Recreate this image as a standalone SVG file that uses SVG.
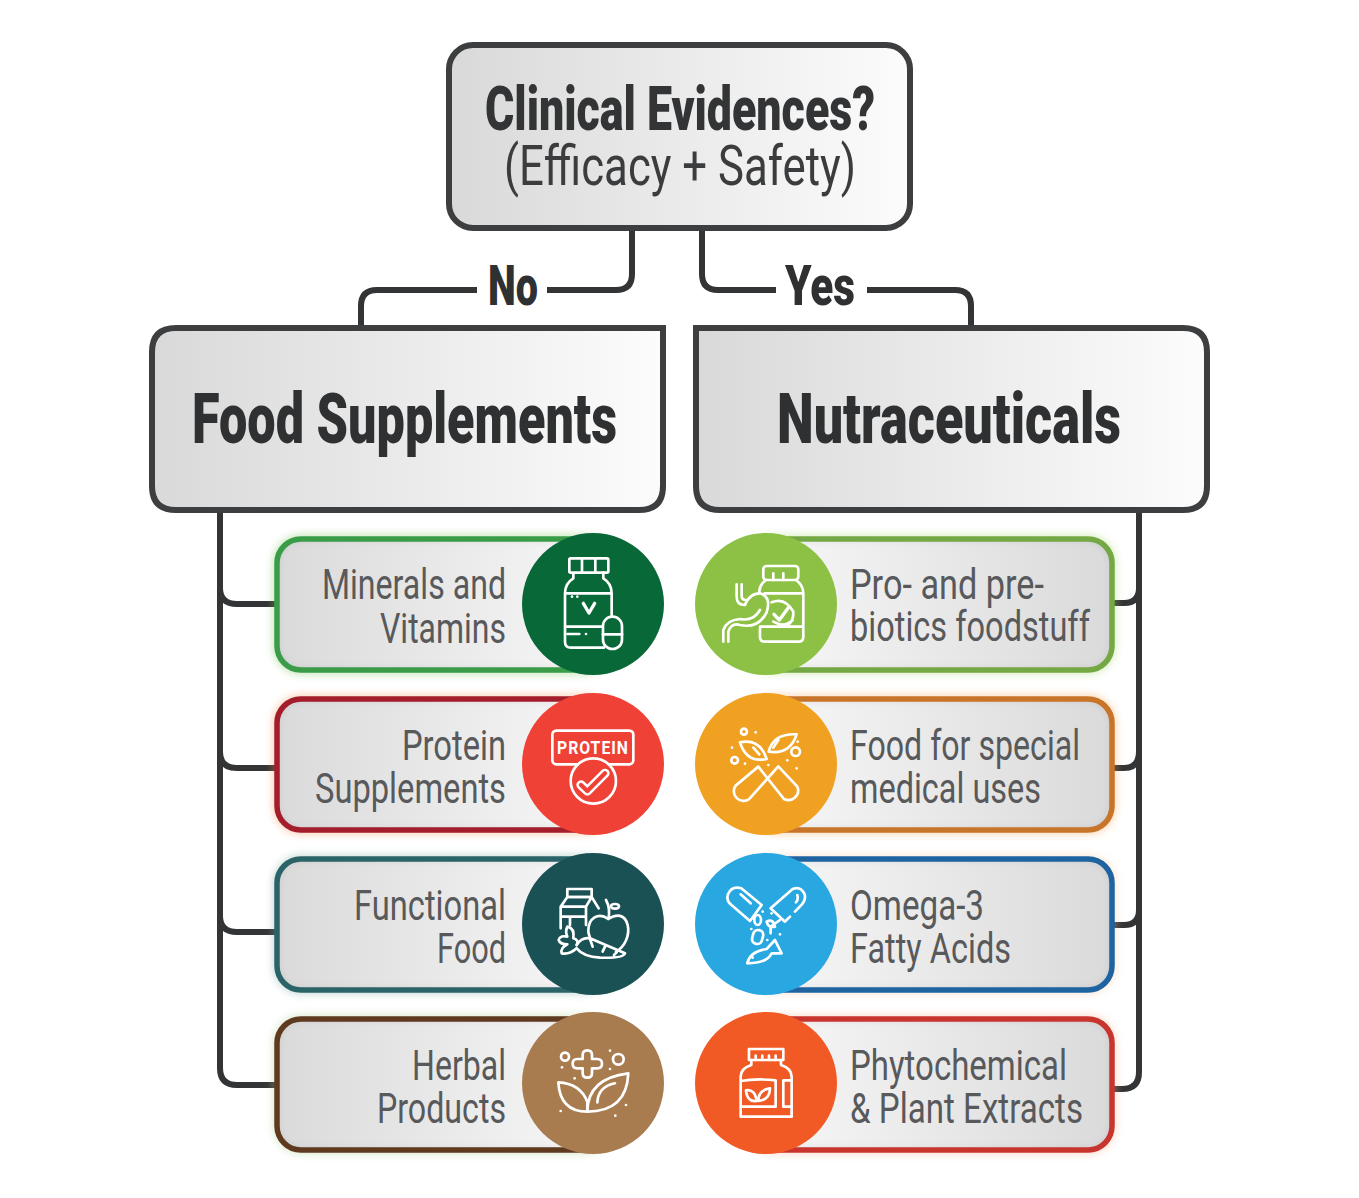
<svg xmlns="http://www.w3.org/2000/svg" width="1359" height="1198" viewBox="0 0 1359 1198">
<style>
text{font-family:"Roboto","Liberation Sans",sans-serif}
.t1{font-size:62px;font-weight:900;fill:#333436}
.t2{font-size:56px;font-weight:400;fill:#3b3c3e}
.h{font-size:70px;font-weight:900;fill:#2f3032}
.lb{font-size:56px;font-weight:900;fill:#2f3032}
.i{font-size:42px;font-weight:400;fill:#58595b}
.main{stroke:#3d3e40;stroke-width:6}
.conn{fill:none;stroke:#333436;stroke-width:6;stroke-linecap:butt}
.glow{fill:none;stroke-width:7;filter:url(#bl);opacity:.5}
.edge{fill:none;stroke-width:5.5}
.ic{fill:none;stroke:#fff;stroke-width:8;stroke-linecap:round;stroke-linejoin:round}
.d{fill:#fff;stroke:none}
</style>
<defs>
<linearGradient id="gm" x1="0" x2="1" y1="0" y2="0"><stop offset="0" stop-color="#d8d9d8"/><stop offset="1" stop-color="#fcfcfc"/></linearGradient>
<linearGradient id="gl" x1="0" x2="1" y1="0" y2="0"><stop offset="0" stop-color="#dadadb"/><stop offset="1" stop-color="#f8f8f8"/></linearGradient>
<linearGradient id="gr" x1="1" x2="0" y1="0" y2="0"><stop offset="0" stop-color="#dadadb"/><stop offset="1" stop-color="#f8f8f8"/></linearGradient>
<filter id="bl" x="-10%" y="-20%" width="120%" height="140%"><feGaussianBlur stdDeviation="4"/></filter>
<filter id="inset" x="-5%" y="-10%" width="110%" height="120%">
<feFlood flood-color="#000" result="f"/><feComposite in="f" in2="SourceAlpha" operator="out" result="o"/>
<feGaussianBlur in="o" stdDeviation="5" result="b"/><feComposite in="b" in2="SourceAlpha" operator="in" result="s"/>
<feComponentTransfer in="s" result="s2"><feFuncA type="linear" slope=".28"/></feComponentTransfer>
<feMerge><feMergeNode in="SourceGraphic"/><feMergeNode in="s2"/></feMerge>
</filter>
</defs>
<rect width="1359" height="1198" fill="#fff"/>

<g id="connectors">
<path class="conn" d="M632 228V274Q632 290 616 290H547"/>
<path class="conn" d="M477 290H377Q361 290 361 306V327"/>
<path class="conn" d="M702 228V274Q702 290 718 290H776"/>
<path class="conn" d="M867 290H955Q971 290 971 306V327"/>
<path class="conn" d="M220 511V1068Q220 1085 237 1085H276"/>
<path class="conn" d="M220 588Q220 604 237 604H276"/>
<path class="conn" d="M220 752Q220 768 237 768H276"/>
<path class="conn" d="M220 916Q220 932 237 932H276"/>
<path class="conn" d="M1139 511V1072Q1139 1089 1122 1089H1113"/>
<path class="conn" d="M1139 588Q1139 603 1124 603H1113"/>
<path class="conn" d="M1139 752Q1139 768 1124 768H1113"/>
<path class="conn" d="M1139 910Q1139 925 1124 925H1113"/>
</g>

<g id="n-clinical">
<rect class="main" x="449" y="45" width="461" height="183" rx="24" fill="url(#gm)"/>
<text class="t1" x="485" y="130" textLength="390" lengthAdjust="spacingAndGlyphs">Clinical Evidences?</text>
<text class="t2" x="504" y="185" textLength="352" lengthAdjust="spacingAndGlyphs">(Efficacy + Safety)</text>
</g>
<g id="l-no"><text class="lb" x="488" y="305" textLength="50" lengthAdjust="spacingAndGlyphs">No</text></g>
<g id="l-yes"><text class="lb" x="785" y="305" textLength="70" lengthAdjust="spacingAndGlyphs">Yes</text></g>

<g id="n-food-supplements">
<path class="main" fill="url(#gm)" d="M663 328H176Q152 328 152 352V486Q152 510 176 510H639Q663 510 663 486Z"/>
<text class="h" x="192" y="443" textLength="425" lengthAdjust="spacingAndGlyphs">Food Supplements</text>
</g>
<g id="n-nutraceuticals">
<path class="main" fill="url(#gm)" d="M696 328H1183Q1207 328 1207 352V486Q1207 510 1183 510H720Q696 510 696 486Z"/>
<text class="h" x="777" y="443" textLength="344" lengthAdjust="spacingAndGlyphs">Nutraceuticals</text>
</g>

<!-- left column -->
<g id="n-minerals">
<rect class="glow" stroke="#6cc04a" x="277" y="539" width="330" height="131" rx="24"/>
<rect fill="url(#gl)" filter="url(#inset)" x="277" y="539" width="330" height="131" rx="24"/>
<rect class="edge" stroke="#3a9c49" x="277" y="539" width="330" height="131" rx="24"/>
<text class="i" x="322" y="599" textLength="184" lengthAdjust="spacingAndGlyphs">Minerals and</text>
<text class="i" x="380" y="643" textLength="126" lengthAdjust="spacingAndGlyphs">Vitamins</text>
<circle cx="593" cy="604" r="71" fill="#086838"/>
<g class="ic" transform="translate(510 525) scale(.3333)">
<rect x="178" y="100" width="117" height="43" rx="4"/><path d="M216 100V143M256 100V143"/>
<path d="M190 145V160Q165 175 165 205V350Q165 368 183 368H282M280 143V160Q305 175 305 205V272M165 205H305M165 305H278"/>
<path d="M220 235L237 264L254 235" stroke-width="10"/>
<path d="M172 327H208"/><circle class="d" cx="202" cy="215" r="4"/><circle class="d" cx="186" cy="215" r="4"/><circle class="d" cx="228" cy="327" r="4"/>
<rect x="279" y="275" width="57" height="97" rx="28"/><path d="M279 328H336"/>
</g>
</g>
<g id="n-protein">
<rect class="glow" stroke="#f58a4a" x="277" y="699" width="330" height="131" rx="24"/>
<rect fill="url(#gl)" filter="url(#inset)" x="277" y="699" width="330" height="131" rx="24"/>
<rect class="edge" stroke="#a31d2a" x="277" y="699" width="330" height="131" rx="24"/>
<text class="i" x="402" y="760" textLength="104" lengthAdjust="spacingAndGlyphs">Protein</text>
<text class="i" x="315" y="803" textLength="191" lengthAdjust="spacingAndGlyphs">Supplements</text>
<circle cx="593" cy="764" r="71" fill="#ef4136"/>
<g class="ic" transform="translate(510 525) scale(.3333)">
<rect x="127" y="617" width="243" height="101" rx="12" fill="#ef4136"/>
<circle cx="250" cy="768" r="68" fill="#ef4136"/>
<path d="M213 780L232 798L285 745" stroke-width="28"/><path d="M213 780L232 798L285 745" stroke="#ef4136" stroke-width="13" stroke-linecap="round"/>
</g>
<text x="557" y="754" textLength="72" lengthAdjust="spacingAndGlyphs" font-size="19" font-weight="700" letter-spacing="1.2" fill="#fff">PROTEIN</text>
</g>
<g id="n-functional">
<rect class="glow" stroke="#7fa89f" x="277" y="859" width="330" height="131" rx="24"/>
<rect fill="url(#gl)" filter="url(#inset)" x="277" y="859" width="330" height="131" rx="24"/>
<rect class="edge" stroke="#2b6468" x="277" y="859" width="330" height="131" rx="24"/>
<text class="i" x="354" y="920" textLength="152" lengthAdjust="spacingAndGlyphs">Functional</text>
<text class="i" x="437" y="963" textLength="69" lengthAdjust="spacingAndGlyphs">Food</text>
<circle cx="593" cy="924" r="71" fill="#1a5155"/>
<g class="ic" transform="translate(510 845) scale(.3333)">
<rect x="172" y="132" width="73" height="24"/>
<path d="M152 250V185L172 156H245L266 190M152 185H228L245 156M152 215H228V238M228 185V240M180 240V215"/>
<path d="M295 222C265 200 235 220 235 258C235 265 238 272 240 278M318 320C345 305 360 270 353 240C345 208 320 205 295 222M295 222Q302 190 288 165"/>
<ellipse cx="315" cy="184" rx="12" ry="7"/>
<path d="M200 300Q215 275 240 280L345 325Q340 340 270 338Q220 335 200 310M240 282L248 305M285 305L278 320M320 322L312 330"/>
<path d="M200 300Q208 285 190 280Q195 250 172 245Q165 260 172 275Q150 270 146 285Q150 298 172 298Q150 310 155 325Q178 330 200 310"/>
</g>
</g>
<g id="n-herbal">
<rect class="glow" stroke="#a8cf8a" x="277" y="1019" width="330" height="131" rx="24"/>
<rect fill="url(#gl)" filter="url(#inset)" x="277" y="1019" width="330" height="131" rx="24"/>
<rect class="edge" stroke="#5f3a1e" x="277" y="1019" width="330" height="131" rx="24"/>
<text class="i" x="412" y="1080" textLength="94" lengthAdjust="spacingAndGlyphs">Herbal</text>
<text class="i" x="377" y="1123" textLength="129" lengthAdjust="spacingAndGlyphs">Products</text>
<circle cx="593" cy="1083" r="71" fill="#a97c50"/>
<g class="ic" transform="translate(510 845) scale(.3333)">
<path d="M218 630Q218 616 232 616Q246 616 246 630V642H262Q276 642 276 656Q276 670 262 670H246V684Q246 698 232 698Q218 698 218 684V670H202Q188 670 188 656Q188 642 202 642H218Z"/>
<circle cx="165" cy="635" r="12"/><circle cx="325" cy="643" r="16"/>
<path d="M145 712Q210 715 232 770V800Q150 800 145 712ZM355 685Q350 800 232 800Q232 700 355 685ZM262 772Q265 725 315 715"/>
<circle class="d" cx="156" cy="667" r="4"/><circle class="d" cx="300" cy="617" r="4"/><circle class="d" cx="194" cy="700" r="4"/><circle class="d" cx="300" cy="672" r="4"/><circle class="d" cx="152" cy="798" r="4"/><circle class="d" cx="348" cy="780" r="4"/><circle class="d" cx="316" cy="812" r="4"/>
</g>
</g>

<!-- right column -->
<g id="n-probiotics">
<rect class="glow" stroke="#a5d66a" x="752" y="539" width="360" height="131" rx="24"/>
<rect fill="url(#gr)" filter="url(#inset)" x="752" y="539" width="360" height="131" rx="24"/>
<rect class="edge" stroke="#74a844" x="752" y="539" width="360" height="131" rx="24"/>
<text class="i" x="850" y="599" textLength="194" lengthAdjust="spacingAndGlyphs">Pro- and pre-</text>
<text class="i" x="850" y="641" textLength="240" lengthAdjust="spacingAndGlyphs">biotics foodstuff</text>
<circle cx="766" cy="604" r="71" fill="#8dc145"/>
<g class="ic" transform="translate(510 525) scale(.3333)">
<rect x="760" y="123" width="105" height="42" rx="10"/><path d="M790 145V165M820 145V165"/>
<path d="M768 165Q748 180 748 200M858 165Q880 180 880 205V335Q880 350 865 350H765Q750 350 750 335V310M764 205H880M750 305H880"/>
<path d="M680 178V215Q680 240 705 240Q718 205 750 205Q785 215 770 262Q745 312 690 300Q665 292 655 320V350M640 350V315Q650 285 690 282Q730 290 750 255M695 178V212Q695 225 708 225"/>
<path d="M792 268L808 285L835 248" stroke-width="10"/><path d="M785 232Q825 215 850 260Q852 285 835 300M848 285Q825 310 790 290"/>
</g>
</g>
<g id="n-special">
<rect class="glow" stroke="#f5a04a" x="752" y="699" width="360" height="131" rx="24"/>
<rect fill="url(#gr)" filter="url(#inset)" x="752" y="699" width="360" height="131" rx="24"/>
<rect class="edge" stroke="#c8752a" x="752" y="699" width="360" height="131" rx="24"/>
<text class="i" x="850" y="760" textLength="230" lengthAdjust="spacingAndGlyphs">Food for special</text>
<text class="i" x="850" y="803" textLength="191" lengthAdjust="spacingAndGlyphs">medical uses</text>
<circle cx="766" cy="764" r="71" fill="#f0a122"/>
<g class="ic" transform="translate(510 525) scale(.3333)">
<path d="M745 725L677 782A29 29 0 0 0 718 822L805 724L862 785A29 29 0 0 1 822 822L745 725"/>
<path d="M690 652Q750 640 770 702Q710 715 690 652ZM776 680Q790 625 860 628Q840 690 776 680ZM730 668L748 688M805 645L790 668"/>
<circle cx="702" cy="620" r="9"/><circle cx="857" cy="680" r="13"/><circle cx="674" cy="706" r="10"/>
<circle class="d" cx="737" cy="622" r="4"/><circle class="d" cx="666" cy="668" r="4"/><circle class="d" cx="863" cy="650" r="4"/><circle class="d" cx="705" cy="716" r="4"/><circle class="d" cx="775" cy="720" r="4"/><circle class="d" cx="832" cy="706" r="4"/><circle class="d" cx="860" cy="730" r="4"/>
</g>
</g>
<g id="n-omega">
<rect class="glow" stroke="#f7c9a0" x="752" y="859" width="360" height="131" rx="24"/>
<rect fill="url(#gr)" filter="url(#inset)" x="752" y="859" width="360" height="131" rx="24"/>
<rect class="edge" stroke="#1f63a1" x="752" y="859" width="360" height="131" rx="24"/>
<text class="i" x="850" y="920" textLength="134" lengthAdjust="spacingAndGlyphs">Omega-3</text>
<text class="i" x="850" y="963" textLength="161" lengthAdjust="spacingAndGlyphs">Fatty Acids</text>
<circle cx="766" cy="924" r="71" fill="#29a7e1"/>
<g class="ic" transform="translate(510 845) scale(.3333)">
<path d="M694 130Q665 122 654 148Q648 165 662 178L720 228L755 180ZM692 148L722 175M782 190L848 132Q872 122 884 148Q888 165 876 178L855 200M840 215L825 230L782 190M862 150Q866 165 858 172"/>
<ellipse cx="743" cy="225" rx="10" ry="15"/><rect x="728" y="255" width="30" height="42" rx="14" transform="rotate(15 743 276)"/>
<path d="M770 230Q790 220 795 245Q775 250 770 230ZM782 265V245L810 225"/>
<path d="M712 355Q720 320 770 312L795 285L815 325H785Q770 355 712 355Z"/>
<circle class="d" cx="728" cy="338" r="4"/><circle class="d" cx="758" cy="200" r="4"/><circle class="d" cx="785" cy="205" r="4"/><circle class="d" cx="724" cy="252" r="4"/><circle class="d" cx="810" cy="268" r="4"/><circle class="d" cx="772" cy="285" r="4"/>
</g>
</g>
<g id="n-phyto">
<rect class="glow" stroke="#f7b08a" x="752" y="1019" width="360" height="131" rx="24"/>
<rect fill="url(#gr)" filter="url(#inset)" x="752" y="1019" width="360" height="131" rx="24"/>
<rect class="edge" stroke="#c8352f" x="752" y="1019" width="360" height="131" rx="24"/>
<text class="i" x="850" y="1080" textLength="217" lengthAdjust="spacingAndGlyphs">Phytochemical</text>
<text class="i" x="850" y="1123" textLength="233" lengthAdjust="spacingAndGlyphs">&amp; Plant Extracts</text>
<circle cx="766" cy="1083" r="71" fill="#f15a24"/>
<g class="ic" transform="translate(510 845) scale(.3333)">
<rect x="717" y="612" width="103" height="33"/><path d="M737 632V645M757 632V645M777 632V645M797 632V645"/>
<path d="M724 645V660Q692 670 692 695V815H845V695Q845 670 813 660V645M692 708Q740 700 797 706V785H692M845 706H820V785H845"/>
<path d="M708 736Q735 732 740 768Q712 772 708 736ZM745 768Q745 735 780 730Q780 765 745 768Z"/>
</g>
</g>
</svg>
